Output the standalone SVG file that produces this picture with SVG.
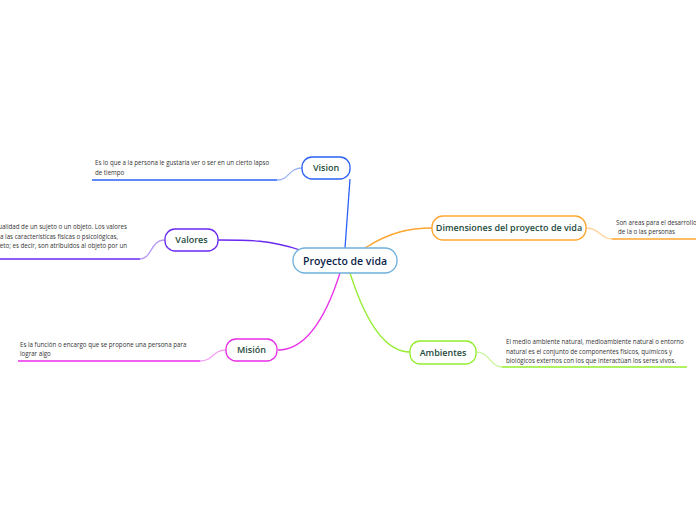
<svg xmlns="http://www.w3.org/2000/svg" width="696" height="520" viewBox="0 0 696 520">
<style>
.n{fill:#fff;stroke-width:1.3}
.t{font-family:"Open Sans","Noto Sans",sans-serif;font-size:9px;font-weight:600;fill:#1d4b3c;text-anchor:middle}
.d{font-family:"Open Sans","Noto Sans",sans-serif;font-size:6.2px;fill:#333}
.c{fill:none;stroke-width:1.3}
</style>
<rect width="696" height="520" fill="#fff"/>
<g id="connectors">
<path class="c" stroke="#2a62f5" d="M345,248 L350,179"/>
<path class="c" stroke="#9ab3f5" d="M302,168 C288,168 290,180 277,180"/>
<path class="c" stroke="#2a62f5" stroke-width="1.6" d="M277,180 L92,180"/>
<path class="c" stroke="#6a28f0" d="M300,250 C270,240 250,240 218,240"/>
<path class="c" stroke="#b79af5" d="M165,240 C150,240 152,259 140,259"/>
<path class="c" stroke="#6a28f0" stroke-width="1.6" d="M140,259 L0,259"/>
<path class="c" stroke="#e82ee8" d="M340,273 C325,320 305,350 278,350"/>
<path class="c" stroke="#f3a0f3" d="M226,350 C212,350 214,361 200,361"/>
<path class="c" stroke="#e82ee8" stroke-width="1.6" d="M200,361 L18,361"/>
<path class="c" stroke="#ffa630" d="M365,248 C390,232 410,228 432,228"/>
<path class="c" stroke="#ffd49a" d="M586,228 C600,228 600,239 612,239"/>
<path class="c" stroke="#ffa630" stroke-width="1.6" d="M612,239 L696,239"/>
<path class="c" stroke="#93ee2e" d="M350,273 C365,320 385,352 410,352"/>
<path class="c" stroke="#c8f59a" d="M476,352 C490,352 490,367 502,367"/>
<path class="c" stroke="#93ee2e" stroke-width="1.6" d="M502,367 L687,367"/>
</g>
<g id="central"><rect class="n" x="293" y="248" width="104" height="25" rx="12" stroke="#6fb0dd"/><text class="t" x="345" y="264.5" style="font-size:10.5px;fill:#0f1f4a">Proyecto de vida</text></g>
<g id="vision"><rect class="n" x="302" y="157" width="48" height="22" rx="10" stroke="#2a62f5"/><text class="t" x="326" y="171">Vision</text>
<text class="d" x="95" y="165">Es lo que a la persona le gustaría ver o ser en un cierto lapso</text><text class="d" x="95" y="175">de tiempo</text></g>
<g id="valores"><rect class="n" x="165" y="229" width="53" height="22" rx="10" stroke="#6a28f0"/><text class="t" x="191.5" y="243">Valores</text>
<text class="d" x="127" y="229" text-anchor="end">cualidad de un sujeto o un objeto. Los valores</text><text class="d" x="118" y="238.5" text-anchor="end">a las características físicas o psicológicas,</text><text class="d" x="127" y="248" text-anchor="end">bjeto; es decir, son atribuidos al objeto por un</text></g>
<g id="mision"><rect class="n" x="226" y="339" width="51" height="22" rx="10" stroke="#e82ee8"/><text class="t" x="251.5" y="353">Misión</text>
<text class="d" x="20" y="347">Es la función o encargo que se propone una persona para</text><text class="d" x="20" y="356">lograr algo</text></g>
<g id="dimensiones"><rect class="n" x="432" y="216" width="154" height="24" rx="11" stroke="#ffa630"/><text class="t" x="509" y="231">Dimensiones del proyecto de vida</text>
<text class="d" x="616" y="225">Son areas para el desarrollo</text><text class="d" x="618" y="234">de la o las personas</text></g>
<g id="ambientes"><rect class="n" x="410" y="341" width="66" height="23" rx="10" stroke="#93ee2e"/><text class="t" x="443" y="355.5">Ambientes</text>
<text class="d" x="506" y="344">El medio ambiente natural, medioambiente natural o entorno</text><text class="d" x="506" y="354">natural es el conjunto de componentes físicos, químicos y</text><text class="d" x="506" y="363">biológicos externos con los que interactúan los seres vivos.</text></g>
</svg>
